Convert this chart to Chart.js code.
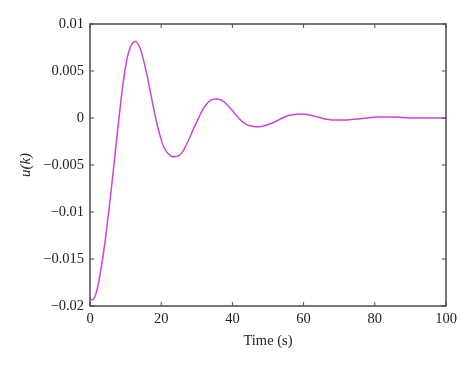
<!DOCTYPE html>
<html>
<head>
<meta charset="utf-8">
<script src="https://cdn.jsdelivr.net/npm/chart.js@4"></script>
<style>
  html, body { margin: 0; padding: 0; background: #fff; }
  #wrap { width: 474px; height: 367px; }
</style>
</head>
<body>
<div id="wrap"><canvas id="uChart" width="474" height="367"></canvas></div>
<script>
// time (s) and control signal u(k)
var timeS = [0, 1, 2, 3, 4, 5, 6, 7, 8, 9, 10, 11, 12, 13, 14, 15, 16, 17, 18, 19, 20,
  21, 22, 23, 24, 25, 26, 27, 28, 29, 30, 31, 32, 33, 34, 35, 36, 37, 38, 39, 40,
  42, 44, 46, 48, 50, 52, 54, 56, 58, 60, 62, 64, 66, 68, 70, 72, 75, 78, 80, 83, 86, 90, 95, 100];
var uK = [-0.0193, -0.0193, -0.0182, -0.0163, -0.0138, -0.0108, -0.0075, -0.0040, -0.0005, 0.0028, 0.0055,
  0.0072, 0.0080, 0.0081, 0.0075, 0.0062, 0.0046, 0.0027, 0.0008, -0.0009, -0.0023,
  -0.0033, -0.0038, -0.0041, -0.0041, -0.0040, -0.0036, -0.0029, -0.0021, -0.0012, -0.0004,
  0.0004, 0.0011, 0.0016, 0.0019, 0.0020, 0.0020, 0.0019, 0.0016, 0.0012, 0.0008,
  -0.0001, -0.0007, -0.0009, -0.0009, -0.0007, -0.0004, 0.0000, 0.0003, 0.0004, 0.0004,
  0.0003, 0.0001, -0.0001, -0.0002, -0.0002, -0.0002, -0.0001, 0.0000, 0.0001, 0.0001, 0.0001, 0.0000, 0.0000, 0.0000];

var xTicks = [0, 20, 40, 60, 80, 100];
var yTicks = [-0.02, -0.015, -0.01, -0.005, 0, 0.005, 0.01];
var yTickText = ['\u22120.02', '\u22120.015', '\u22120.01', '\u22120.005', '0', '0.005', '0.01'];

var axisColor = '#4a4a4a';
var serif = '"Liberation Serif", "DejaVu Serif", serif';

// box frame + inward ticks on all four sides
const frameTicks = {
  id: 'frameTicks',
  afterDraw(chart) {
    const ctx = chart.ctx;
    const a = chart.chartArea;
    const xs = chart.scales.x, ys = chart.scales.y;
    const len = 4;
    ctx.save();
    ctx.strokeStyle = axisColor;
    ctx.lineWidth = 1.5;
    ctx.strokeRect(a.left, a.top, a.right - a.left, a.bottom - a.top);
    ctx.lineWidth = 1;
    ctx.beginPath();
    xTicks.forEach(function (v) {
      const px = xs.getPixelForValue(v);
      ctx.moveTo(px, a.bottom); ctx.lineTo(px, a.bottom - len);
      ctx.moveTo(px, a.top); ctx.lineTo(px, a.top + len);
    });
    yTicks.forEach(function (v) {
      const py = ys.getPixelForValue(v);
      ctx.moveTo(a.left, py); ctx.lineTo(a.left + len, py);
      ctx.moveTo(a.right, py); ctx.lineTo(a.right - len, py);
    });
    ctx.stroke();
    ctx.restore();
  }
};

const uChartCtx = document.getElementById('uChart').getContext('2d');
const uChart = new Chart(uChartCtx, {
  type: 'line',
  data: {
    datasets: [{
      label: 'u(k)',
      data: timeS.map(function (t, i) { return { x: t, y: uK[i] }; }),
      borderColor: '#cc44d8',
      borderWidth: 1.5,
      pointRadius: 0,
      tension: 0.35,
      fill: false
    }]
  },
  options: {
    responsive: false,
    animation: false,
    layout: { padding: { left: 14, right: 28, top: 24, bottom: 14 } },
    plugins: { legend: { display: false }, tooltip: { enabled: false } },
    scales: {
      x: {
        type: 'linear',
        min: 0, max: 100,
        afterBuildTicks: function (s) { s.ticks = xTicks.map(function (v) { return { value: v }; }); },
        grid: { display: false, drawTicks: false },
        border: { display: false },
        ticks: { color: '#222', font: { family: serif, size: 14.5 }, padding: 4, maxRotation: 0 },
        title: { display: true, text: 'Time (s)', color: '#222', font: { family: serif, size: 14.5 }, padding: { top: 2, bottom: 3 } },
        afterFit: function (s) { s.height = 47; }
      },
      y: {
        type: 'linear',
        min: -0.02, max: 0.01,
        afterBuildTicks: function (s) { s.ticks = yTicks.map(function (v) { return { value: v }; }); },
        grid: { display: false, drawTicks: false },
        border: { display: false },
        ticks: {
          color: '#222', font: { family: serif, size: 14.5 }, padding: 6,
          callback: function (v) { return yTickText[yTicks.indexOf(v)]; }
        },
        title: { display: true, text: 'u(k)', color: '#222', font: { family: serif, size: 15, style: 'italic' }, padding: { top: 3, bottom: 8 } },
        afterFit: function (s) { s.width = 76; }
      }
    }
  },
  plugins: [frameTicks]
});
</script>
</body>
</html>
